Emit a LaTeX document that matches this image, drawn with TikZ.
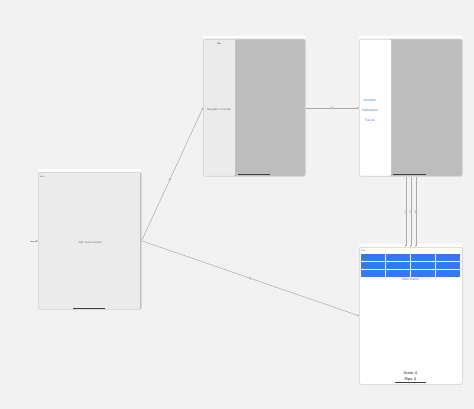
\documentclass[tikz,border=0pt]{standalone}
\usepackage{fontspec}
\setmainfont{Liberation Sans}
\usetikzlibrary{arrows.meta,positioning}
\definecolor{bg}{HTML}{F2F2F2}
\definecolor{lightpane}{HTML}{EBEBEB}
\definecolor{darkpane}{HTML}{BDBDBD}
\definecolor{frameline}{HTML}{CFCFCF}
\definecolor{cellblue}{HTML}{3478F6}
\definecolor{linkblue}{HTML}{3F7FE6}
\definecolor{wire}{HTML}{AAAAAA}
\tikzset{
  scene/.style={draw=frameline, line width=0.6pt, rounded corners=1.5pt, anchor=north west, minimum width=103pt, minimum height=137pt, inner sep=0pt},
  dock/.style={fill=white, draw=none},
  homebar/.style={line width=1.2pt, draw=black!75},
  wireline/.style={draw=wire, line width=0.5pt, -{Stealth[length=2pt,width=2pt]}},
  marker/.style={circle, draw=wire, fill=bg, line width=0.4pt, inner sep=0pt, minimum size=2.4pt},
  tinytext/.style={font=\fontsize{2.6}{3}\selectfont, text=black!60, inner sep=0pt},
  linktext/.style={font=\fontsize{3.4}{4}\selectfont, text=linkblue, inner sep=0pt},
  cell/.style={fill=cellblue, draw=none, anchor=north west, minimum width=23.5pt, minimum height=6.3pt, inner sep=0pt}
}
\begin{document}
\begin{tikzpicture}[x=1pt,y=-1pt]
\useasboundingbox (0,0) rectangle (474,409);
\fill[bg] (0,0) rectangle (474,409);

% docks (white bars above scenes)
\fill[dock] (38,169) rectangle (141,172);
\fill[dock] (203,36) rectangle (305,39);
\fill[dock] (359,36) rectangle (462,39);
\fill[dock] (359,244) rectangle (462,247);

% split view controller scene
\node[scene, fill=lightpane] (split) at (38,172) {};
\draw[black!25, line width=0.8pt] (140.5,173) -- (140.5,309);
\node[tinytext] (splitlabel) at (90,243) {Split View Controller};
\node[tinytext, anchor=west] (splitback) at (40,177) {\fontsize{2}{2}\selectfont Back};
\draw[homebar] (73,308.5) -- (105,308.5);

% navigation controller scene
\fill[darkpane, rounded corners=1.5pt] (203,39) rectangle (305,176);
\fill[lightpane, rounded corners=1.5pt] (203,39) -- (235,39) -- (235,176) -- (203,176) -- cycle;
\node[scene, minimum width=102pt] (nav) at (203,39) {};
\node[tinytext] (navlabel) at (219,110) {Navigation Controller};
\node[tinytext, text=black] (navtitle) at (219,43.5) {\fontsize{2}{2}\selectfont Title};
\draw[homebar] (238,174.5) -- (270,174.5);

% master scene
\fill[darkpane, rounded corners=1.5pt] (359,39) rectangle (462,176);
\fill[white, rounded corners=1.5pt] (359,39) -- (391,39) -- (391,176) -- (359,176) -- cycle;
\node[scene] (master) at (359,39) {};
\node[linktext] (animals) at (370,100) {Animals};
\node[linktext] (halloween) at (370,110) {Halloween};
\node[linktext] (faces) at (370,120) {Faces};
\draw[homebar] (393,174.5) -- (426,174.5);

% detail scene
\node[scene, fill=white] (detail) at (359,247) {};
\node[tinytext, anchor=west] (detailback) at (361,250.5) {\fontsize{2}{2}\selectfont Back};
\foreach \r/\yy in {0/254,1/262,2/270}{
  \foreach \c/\xx in {0/361,1/386,2/411,3/436}{
    \node[cell] (cell\r\c) at (\xx,\yy) {};
  }
}
\node[linktext] (newgame) at (410.5,279) {New Game};
\node[font=\fontsize{3.6}{4}\selectfont, inner sep=0pt] (score) at (410.5,373.5) {Score: 0};
\node[font=\fontsize{3.6}{4}\selectfont, inner sep=0pt] (flips) at (410.5,379.5) {Flips: 0};
\draw[homebar] (395,382.5) -- (426,382.5);

% entry point arrow
\coordinate (entry) at (30,241);
\draw[wireline] (entry) -- (split.west |- entry);

% segues
\draw[wireline] (split.east) -- node[marker, pos=0.46] (m1) {} (nav.west);
\draw[wireline] (split.east) -- node[marker, pos=0.5] (m2) {} (detail.west);
\draw[wireline] (nav.east) -- node[marker] (m3) {} (master.west);
\foreach \dx/\n in {-5/a,0/b,5/c}{
  \draw[wireline] ([xshift=\dx pt]master.south) -- node[marker, pos=0.5] (m4\n) {} ([xshift=\dx pt]detail.north);
}
\end{tikzpicture}
\end{document}
